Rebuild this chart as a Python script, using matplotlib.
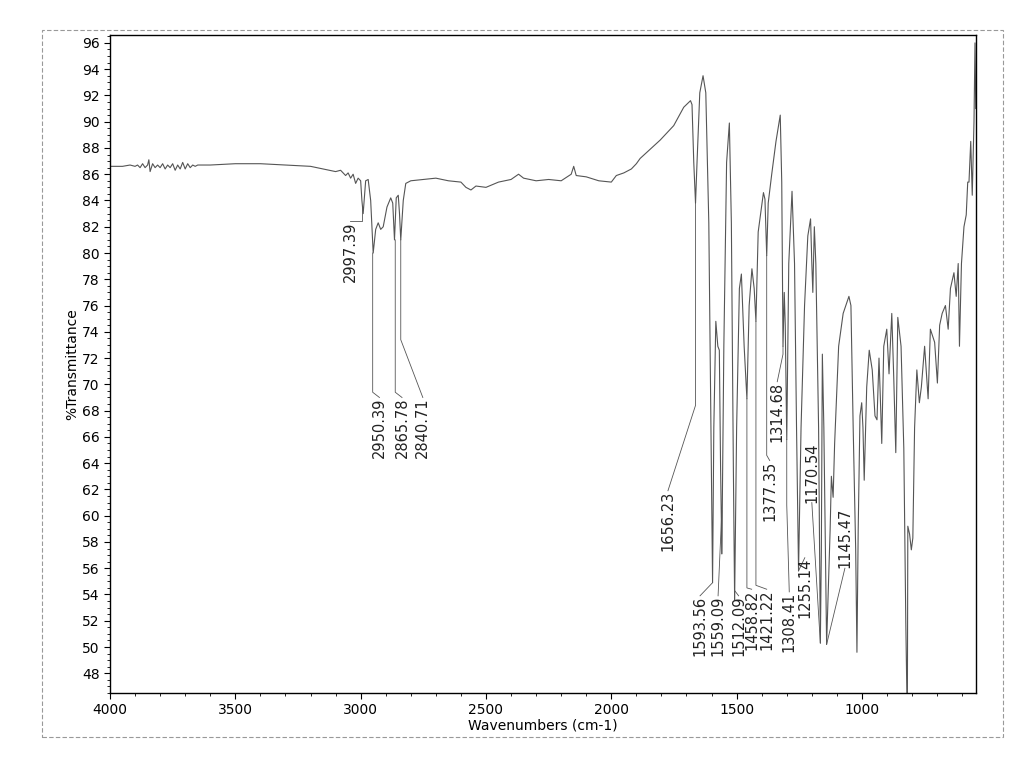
import matplotlib
matplotlib.use("Agg")
import matplotlib.pyplot as plt
from matplotlib.patches import Rectangle

wavenumber = [4000, 3950, 3920, 3900, 3890, 3880, 3870, 3860, 3850, 3845, 3840, 3830, 3820, 3810, 3800, 3790,
              3780, 3770, 3760, 3750, 3740, 3730, 3720, 3710, 3700, 3690, 3680, 3670, 3660, 3650, 3600, 3500,
              3400, 3300, 3200, 3150, 3100, 3080, 3060, 3050, 3040, 3030, 3020, 3010, 3000, 2995, 2990, 2980,
              2970, 2960, 2950, 2940, 2930, 2920, 2910, 2895, 2880, 2872, 2865, 2858, 2850, 2845, 2840, 2830,
              2820, 2800, 2750, 2700, 2650, 2600, 2580, 2560, 2540, 2500, 2450, 2400, 2370, 2350, 2300, 2250,
              2200, 2160, 2150, 2140, 2100, 2050, 2000, 1980, 1950, 1920, 1900, 1885,
              1805, 1751, 1711, 1684, 1678, 1671, 1664, 1658, 1647, 1634, 1623, 1611, 1601, 1596, 1591, 1583,
              1575, 1569, 1564, 1559, 1551, 1540, 1529, 1521, 1513, 1508, 1500, 1489, 1481, 1470, 1459, 1450,
              1439, 1430, 1423, 1414, 1393, 1387, 1380, 1374, 1360, 1343, 1326, 1320, 1315, 1310, 1306, 1300,
              1292, 1279, 1269, 1261, 1253, 1243, 1229, 1216, 1205, 1200, 1196, 1190, 1184, 1173, 1166, 1162,
              1158, 1152, 1141, 1127, 1122, 1115, 1109, 1093, 1075, 1052, 1044, 1035, 1025, 1020, 1015, 1008,
              1001, 996, 991, 981, 971, 959, 948, 940, 932, 927, 921, 913, 901, 892, 881, 873,
              865, 857, 844, 833, 825, 819, 817, 810, 803, 797, 790, 781, 771, 763, 750, 736,
              727, 710, 699, 690, 680, 667, 656, 647, 633, 624, 616, 611, 603, 593, 584, 578,
              573, 566, 560, 553, 549, 546]
transmittance = [86.6, 86.6, 86.7, 86.6, 86.7, 86.5, 86.8, 86.5, 86.7, 87.1, 86.2, 86.8, 86.5, 86.7, 86.5, 86.8,
                 86.4, 86.7, 86.5, 86.8, 86.3, 86.7, 86.4, 86.9, 86.4, 86.8, 86.5, 86.7, 86.6, 86.7, 86.7, 86.8,
                 86.8, 86.7, 86.6, 86.4, 86.2, 86.3, 85.9, 86.1, 85.7, 86.0, 85.3, 85.7, 85.5, 84.0, 83.0, 85.5,
                 85.6, 84.0, 80.0, 81.8, 82.3, 81.8, 82.0, 83.5, 84.2, 83.8, 81.0, 84.2, 84.4, 83.0, 81.0, 84.0,
                 85.3, 85.5, 85.6, 85.7, 85.5, 85.4, 85.0, 84.8, 85.1, 85.0, 85.4, 85.6, 86.0, 85.7, 85.5, 85.6,
                 85.5, 86.0, 86.6, 85.9, 85.8, 85.5, 85.4, 85.9, 86.1, 86.4, 86.8, 87.2,
                 88.6, 89.7, 91.1, 91.6, 91.3, 86.9, 83.8, 86.9, 92.2, 93.5, 92.2, 82.3, 63.6, 54.9, 66.7, 74.8,
                 72.9, 72.6, 63.6, 57.1, 72.9, 86.9, 89.9, 82.3, 63.6, 53.6, 66.7, 77.3, 78.4, 72.9, 68.9, 76.0,
                 78.8, 77.3, 74.8, 81.6, 84.6, 84.1, 79.8, 83.8, 86.0, 88.5, 90.5, 85.4, 72.9, 77.0, 74.5, 65.8,
                 79.2, 84.7, 79.2, 66.7, 55.8, 66.7, 76.0, 81.3, 82.6, 79.2, 77.0, 82.0, 79.2, 66.7, 50.3, 57.4,
                 72.3, 66.7, 50.2, 58.9, 63.0, 61.4, 65.5, 72.9, 75.4, 76.7, 76.0, 66.7, 57.4, 49.6, 58.9, 67.6,
                 68.6, 66.7, 62.7, 69.8, 72.6, 71.1, 67.6, 67.3, 72.0, 69.2, 65.5, 72.9, 74.2, 70.8, 75.4, 70.4,
                 64.8, 75.1, 72.9, 65.1, 51.8, 44.0, 59.2, 58.6, 57.4, 58.3, 66.7, 71.1, 68.6, 69.8, 72.9, 68.9,
                 74.2, 73.2, 70.1, 74.5, 75.4, 76.0, 74.2, 77.3, 78.5, 76.7, 79.2, 72.9, 79.2, 82.0, 82.9, 85.4,
                 85.4, 88.5, 84.4, 90.0, 96.0, 91.0]

labels = ["2997.39", "2950.39", "2865.78", "2840.71", "1656.23", "1593.56", "1559.09", "1512.09",
          "1458.82", "1421.22", "1377.35", "1314.68", "1308.41", "1255.14", "1170.54", "1145.47"]
peak_x = [2995, 2952, 2862, 2840, 1664, 1596, 1559, 1508, 1459, 1423, 1380, 1315, 1300, 1253, 1166, 1141]
peak_y = [83.5, 80.0, 81.0, 81.0, 83.8, 54.9, 57.1, 53.6, 68.9, 74.8, 79.8, 72.9, 65.8, 55.8, 50.3, 50.2]
elbow_y = [82.4, 69.4, 69.4, 73.4, 68.4, 54.9, 60.4, 54.3, 54.5, 54.7, 64.6, 72.3, 60.8, 55.8, 50.3, 50.2]
text_x = [3042, 2925, 2835, 2752, 1774, 1646, 1574, 1492, 1440, 1380, 1368, 1338, 1290, 1228, 1200, 1068]
text_y = [82.4, 69.0, 69.0, 69.0, 61.9, 53.9, 53.9, 53.9, 54.4, 54.4, 64.2, 70.2, 54.2, 56.8, 61.0, 56.0]
text_va = ["top"] * 14 + ["bottom", "bottom"]

fig = plt.figure(figsize=(10.24, 7.77), dpi=100)
fig.patches.append(Rectangle((42 / 1024, 40 / 777), 961 / 1024, 707 / 777, transform=fig.transFigure,
                             fill=False, edgecolor="#999999", linestyle=(0, (4, 2)), linewidth=0.8))
ax = fig.add_axes([110 / 1024, 84 / 777, 866 / 1024, 658 / 777])
ax.plot(wavenumber, transmittance, color="#555555", linewidth=0.8)
for i in range(len(labels)):
    ax.plot([peak_x[i], peak_x[i], text_x[i]], [peak_y[i], elbow_y[i], text_y[i]],
            color="#555555", linewidth=0.6)
    ax.text(text_x[i], text_y[i], labels[i], rotation=90, ha="center", va=text_va[i],
            fontsize=10.5, color="#222222")

ax.set_xlim(4000, 545)
ax.set_ylim(46.5, 96.6)
ax.set_xticks([4000, 3500, 3000, 2500, 2000, 1500, 1000])
ax.set_yticks(list(range(48, 97, 2)))
ax.minorticks_on()
ax.tick_params(axis="both", labelsize=10, direction="out", length=4)
ax.tick_params(which="minor", length=2)
ax.set_xlabel("Wavenumbers (cm-1)", fontsize=10, labelpad=1)
ax.set_ylabel("%Transmittance", fontsize=10, labelpad=2)
for s in ax.spines.values():
    s.set_linewidth(1.0)
fig.savefig("out.png", dpi=100)
